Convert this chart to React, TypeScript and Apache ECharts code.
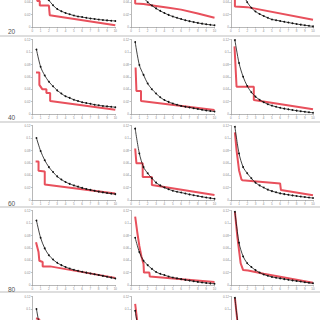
import React, { useEffect, useRef } from "react";
import * as echarts from "echarts";

// shared x positions of the black (dotted) curves
const xValues = [0.5, 1, 1.5, 2, 2.5, 3, 3.5, 4, 4.5, 5, 5.5, 6, 6.5, 7, 7.5, 8, 8.5, 9, 9.5, 10];
const rowLabels = ["20", "40", "60", "80"];
const yMax = 0.12;
const yStep = 0.02;

// row "20"
const black20L = [0.09, 0.065, 0.052, 0.043, 0.035, 0.029, 0.0255, 0.0226, 0.0205, 0.0185, 0.017, 0.016, 0.0148, 0.0138, 0.013, 0.012, 0.0113, 0.0107, 0.0102, 0.0097];
const red20L = [[0.6, 0.06], [0.6, 0.042], [0.9, 0.042], [0.9, 0.0345], [2.0, 0.0345], [2.1, 0.019], [10, 0.003]];
const black20M = [0.1, 0.07, 0.048, 0.04, 0.0345, 0.03, 0.026, 0.0225, 0.0195, 0.017, 0.0148, 0.0128, 0.011, 0.0094, 0.0079, 0.0066, 0.0054, 0.0044, 0.0035, 0.0027];
const red20M = [[0.5, 0.05], [0.5, 0.038], [1.5, 0.037], [3, 0.034], [4.5, 0.031], [6, 0.028], [8, 0.0216], [10, 0.015]];
const black20R = [0.1, 0.068, 0.052, 0.04, 0.031, 0.025, 0.021, 0.0177, 0.0148, 0.0122, 0.011, 0.0097, 0.0084, 0.0072, 0.006, 0.0048, 0.0038, 0.0028, 0.0019, 0.001];
const red20R = [[0.5, 0.05], [0.5, 0.033], [2, 0.032], [10, 0.0118]];

// row "40"
const black40L = [0.104, 0.076, 0.062, 0.052, 0.0446, 0.038, 0.033, 0.0285, 0.026, 0.023, 0.021, 0.019, 0.0177, 0.0165, 0.015, 0.014, 0.013, 0.0123, 0.0116, 0.011];
const red40L = [[0.45, 0.067], [0.85, 0.067], [0.85, 0.047], [1.2, 0.04], [1.7, 0.04], [1.7, 0.034], [2.15, 0.034], [2.15, 0.021], [10, 0.007]];
const black40M = [0.116, 0.079, 0.063, 0.049, 0.04, 0.033, 0.027, 0.0225, 0.0195, 0.017, 0.015, 0.013, 0.0118, 0.0106, 0.0093, 0.008, 0.0068, 0.0057, 0.0048, 0.004];
const red40M = [[0.55, 0.075], [0.65, 0.037], [1.2, 0.037], [1.2, 0.021], [10, 0.0065]];
const black40R = [0.119, 0.082, 0.06, 0.045, 0.035, 0.028, 0.023, 0.019, 0.0158, 0.0135, 0.0117, 0.01, 0.0087, 0.0075, 0.0064, 0.0054, 0.0045, 0.0036, 0.0028, 0.002];
const red40R = [[0.45, 0.109], [0.7, 0.044], [2.8, 0.044], [2.8, 0.0227], [10, 0.0076]];

// row "60"
const black60L = [0.1, 0.079, 0.064, 0.053, 0.045, 0.038, 0.033, 0.029, 0.026, 0.0235, 0.0215, 0.0195, 0.0178, 0.0163, 0.0148, 0.0135, 0.0123, 0.0112, 0.0103, 0.0095];
const red60L = [[0.4, 0.062], [0.75, 0.062], [0.75, 0.047], [1.5, 0.046], [1.5, 0.025], [10, 0.0105]];
const black60M = [0.115, 0.075, 0.053, 0.043, 0.035, 0.028, 0.0235, 0.02, 0.0173, 0.015, 0.0133, 0.012, 0.0105, 0.009, 0.0077, 0.0064, 0.0052, 0.004, 0.003, 0.002];
const red60M = [[0.5, 0.083], [0.65, 0.059], [1.4, 0.059], [1.4, 0.037], [2.5, 0.037], [2.5, 0.024], [10, 0.008]];
const black60R = [0.118, 0.075, 0.053, 0.043, 0.035, 0.028, 0.0235, 0.02, 0.0167, 0.0143, 0.0124, 0.0107, 0.0095, 0.0084, 0.0074, 0.0064, 0.0055, 0.0047, 0.0039, 0.0032];
const red60R = [[0.5, 0.109], [0.7, 0.08], [1, 0.048], [1.3, 0.033], [1.4, 0.032], [6, 0.0267], [6.1, 0.016], [10, 0.0075]];

// row "80"
const black80L = [0.104, 0.076, 0.059, 0.048, 0.041, 0.0357, 0.032, 0.029, 0.0265, 0.0245, 0.0228, 0.0213, 0.0199, 0.0186, 0.0173, 0.016, 0.0147, 0.0133, 0.0119, 0.0105];
const red80L = [[0.45, 0.069], [0.75, 0.053], [0.85, 0.039], [1.25, 0.037], [1.25, 0.03], [2.15, 0.03], [10, 0.0115]];
const black80M = [0.076, 0.053, 0.039, 0.032, 0.026, 0.021, 0.018, 0.016, 0.0138, 0.012, 0.0107, 0.0095, 0.0083, 0.0071, 0.006, 0.005, 0.0041, 0.0033, 0.0026, 0.002];
const red80M = [[0.5, 0.11], [0.75, 0.085], [1, 0.063], [1.25, 0.046], [1.5, 0.034], [1.55, 0.02], [2.2, 0.02], [2.25, 0.0135], [10, 0.005]];
const black80R = [0.118, 0.068, 0.046, 0.035, 0.029, 0.024, 0.02, 0.017, 0.0148, 0.013, 0.0118, 0.0107, 0.0095, 0.0084, 0.0074, 0.0064, 0.0055, 0.0044, 0.0035, 0.0027];
const red80R = [[0.5, 0.118], [0.8, 0.077], [1.2, 0.035], [1.5, 0.024], [2.1, 0.0235], [4, 0.018], [10, 0.0037]];

// row "100" (only its top is visible)
const black100L = [0.1, 0.066, 0.05, 0.04, 0.034, 0.029, 0.026, 0.023, 0.021, 0.019, 0.0175, 0.016, 0.0148, 0.0136, 0.0125, 0.0115, 0.0106, 0.0098, 0.009, 0.0083];
const red100L = [[0.45, 0.085], [0.85, 0.083], [0.85, 0.058], [1.4, 0.052], [1.4, 0.03], [10, 0.011]];
const black100M = [0.097, 0.06, 0.044, 0.035, 0.028, 0.023, 0.0195, 0.017, 0.0148, 0.013, 0.0115, 0.0102, 0.009, 0.0079, 0.0068, 0.0058, 0.0049, 0.0041, 0.0033, 0.0026];
const red100M = [[0.5, 0.108], [0.75, 0.08], [1, 0.062], [1.5, 0.04], [1.55, 0.025], [2.3, 0.025], [2.35, 0.016], [10, 0.006]];
const black100R = [0.118, 0.066, 0.046, 0.035, 0.028, 0.023, 0.0195, 0.0168, 0.0145, 0.0127, 0.0112, 0.0099, 0.0087, 0.0076, 0.0066, 0.0057, 0.0048, 0.004, 0.0033, 0.0026];
const red100R = [[0.5, 0.118], [0.8, 0.08], [1.2, 0.045], [1.5, 0.03], [3, 0.024], [10, 0.006]];

const panelRows = [
  [[black20L, red20L], [black20M, red20M], [black20R, red20R]],
  [[black40L, red40L], [black40M, red40M], [black40R, red40R]],
  [[black60L, red60L], [black60M, red60M], [black60R, red60R]],
  [[black80L, red80L], [black80M, red80M], [black80R, red80R]],
  [[black100L, red100L], [black100M, red100M], [black100R, red100R]],
];

const OFFSET = 60; // chart is shifted up so the cut-off top row fits
const VIEW_H = 320;
const rowAxisY = [27, 114, 200, 285, 371]; // page y of each row's x-axis
const plotH = 74.5;
const colLeft = [32.3, 131, 230.8];
const colWidth = [83, 83.5, 82.2];
const sepY = [36, 122, 207, 292];
const labelY = [31, 117, 203, 289];

export default function App() {
  const ref = useRef<HTMLDivElement>(null);
  useEffect(() => {
    if (!ref.current) return;
    const chart = echarts.init(ref.current, undefined, { renderer: "svg" });
    const grid: any[] = [];
    const xAxis: any[] = [];
    const yAxis: any[] = [];
    const series: any[] = [];
    let idx = 0;
    panelRows.forEach((row, r) => {
      const axisY = rowAxisY[r];
      const topY = axisY - plotH;
      // only labels that land inside the visible 320px page are drawn
      const yLabelVisible = (v: number) => {
        const py = axisY - (v / yMax) * plotH;
        return py >= 2 && py <= VIEW_H - 2;
      };
      const xLabelsVisible = axisY + 4 <= VIEW_H;
      row.forEach(([black, red], c) => {
        grid.push({
          left: colLeft[c],
          top: topY + OFFSET,
          width: colWidth[c],
          height: plotH,
          containLabel: false,
        });
        const lineCommon = {
          axisLine: { show: true, lineStyle: { color: "#9a9a9a", width: 0.7 } },
          axisTick: { show: true, length: 1.5, lineStyle: { color: "#9a9a9a", width: 0.6 } },
          splitLine: { show: false },
        };
        const labelCommon = { fontSize: 3, color: "#888", margin: 2, fontFamily: "Liberation Sans" };
        xAxis.push({
          type: "value",
          gridIndex: idx,
          min: 0,
          max: 10,
          interval: 1,
          ...lineCommon,
          axisLabel: { ...labelCommon, show: xLabelsVisible },
        });
        yAxis.push({
          type: "value",
          gridIndex: idx,
          min: 0,
          max: yMax,
          interval: yStep,
          ...lineCommon,
          axisLabel: {
            ...labelCommon,
            formatter: (v: number) => (yLabelVisible(v) ? String(+v.toFixed(2)) : ""),
          },
        });
        series.push({
          type: "line",
          xAxisIndex: idx,
          yAxisIndex: idx,
          data: red,
          symbol: "none",
          lineStyle: { color: "#e8505c", width: 2 },
          z: 2,
        });
        series.push({
          type: "line",
          xAxisIndex: idx,
          yAxisIndex: idx,
          data: xValues.map((x, i) => [x, (black as number[])[i]]),
          smooth: 0.3,
          symbol: "circle",
          symbolSize: 1.8,
          itemStyle: { color: "#111" },
          lineStyle: { color: "#111", width: 0.8 },
          z: 3,
        });
        idx++;
      });
    });
    const graphic: any[] = [];
    sepY.forEach((y) => {
      graphic.push({
        type: "line",
        shape: { x1: 0, y1: y + OFFSET, x2: 320, y2: y + OFFSET },
        style: { stroke: "#bdbdbd", lineWidth: 1 },
      });
    });
    rowLabels.forEach((t, i) => {
      graphic.push({
        type: "text",
        x: 8,
        y: labelY[i] + OFFSET,
        style: {
          text: t,
          fontSize: 6.5,
          fill: "#555",
          fontFamily: "Liberation Sans",
          verticalAlign: "middle",
          align: "left",
        },
      });
    });
    chart.setOption({
      animation: false,
      backgroundColor: "#fff",
      grid,
      xAxis,
      yAxis,
      series,
      graphic,
    });
    return () => chart.dispose();
  }, []);
  return (
    <div style={{ position: "fixed", left: 0, top: 0, width: 320, height: 320, overflow: "hidden", background: "#fff" }}>
      <div ref={ref} style={{ position: "absolute", left: 0, top: -OFFSET, width: 320, height: 460 }} />
    </div>
  );
}
